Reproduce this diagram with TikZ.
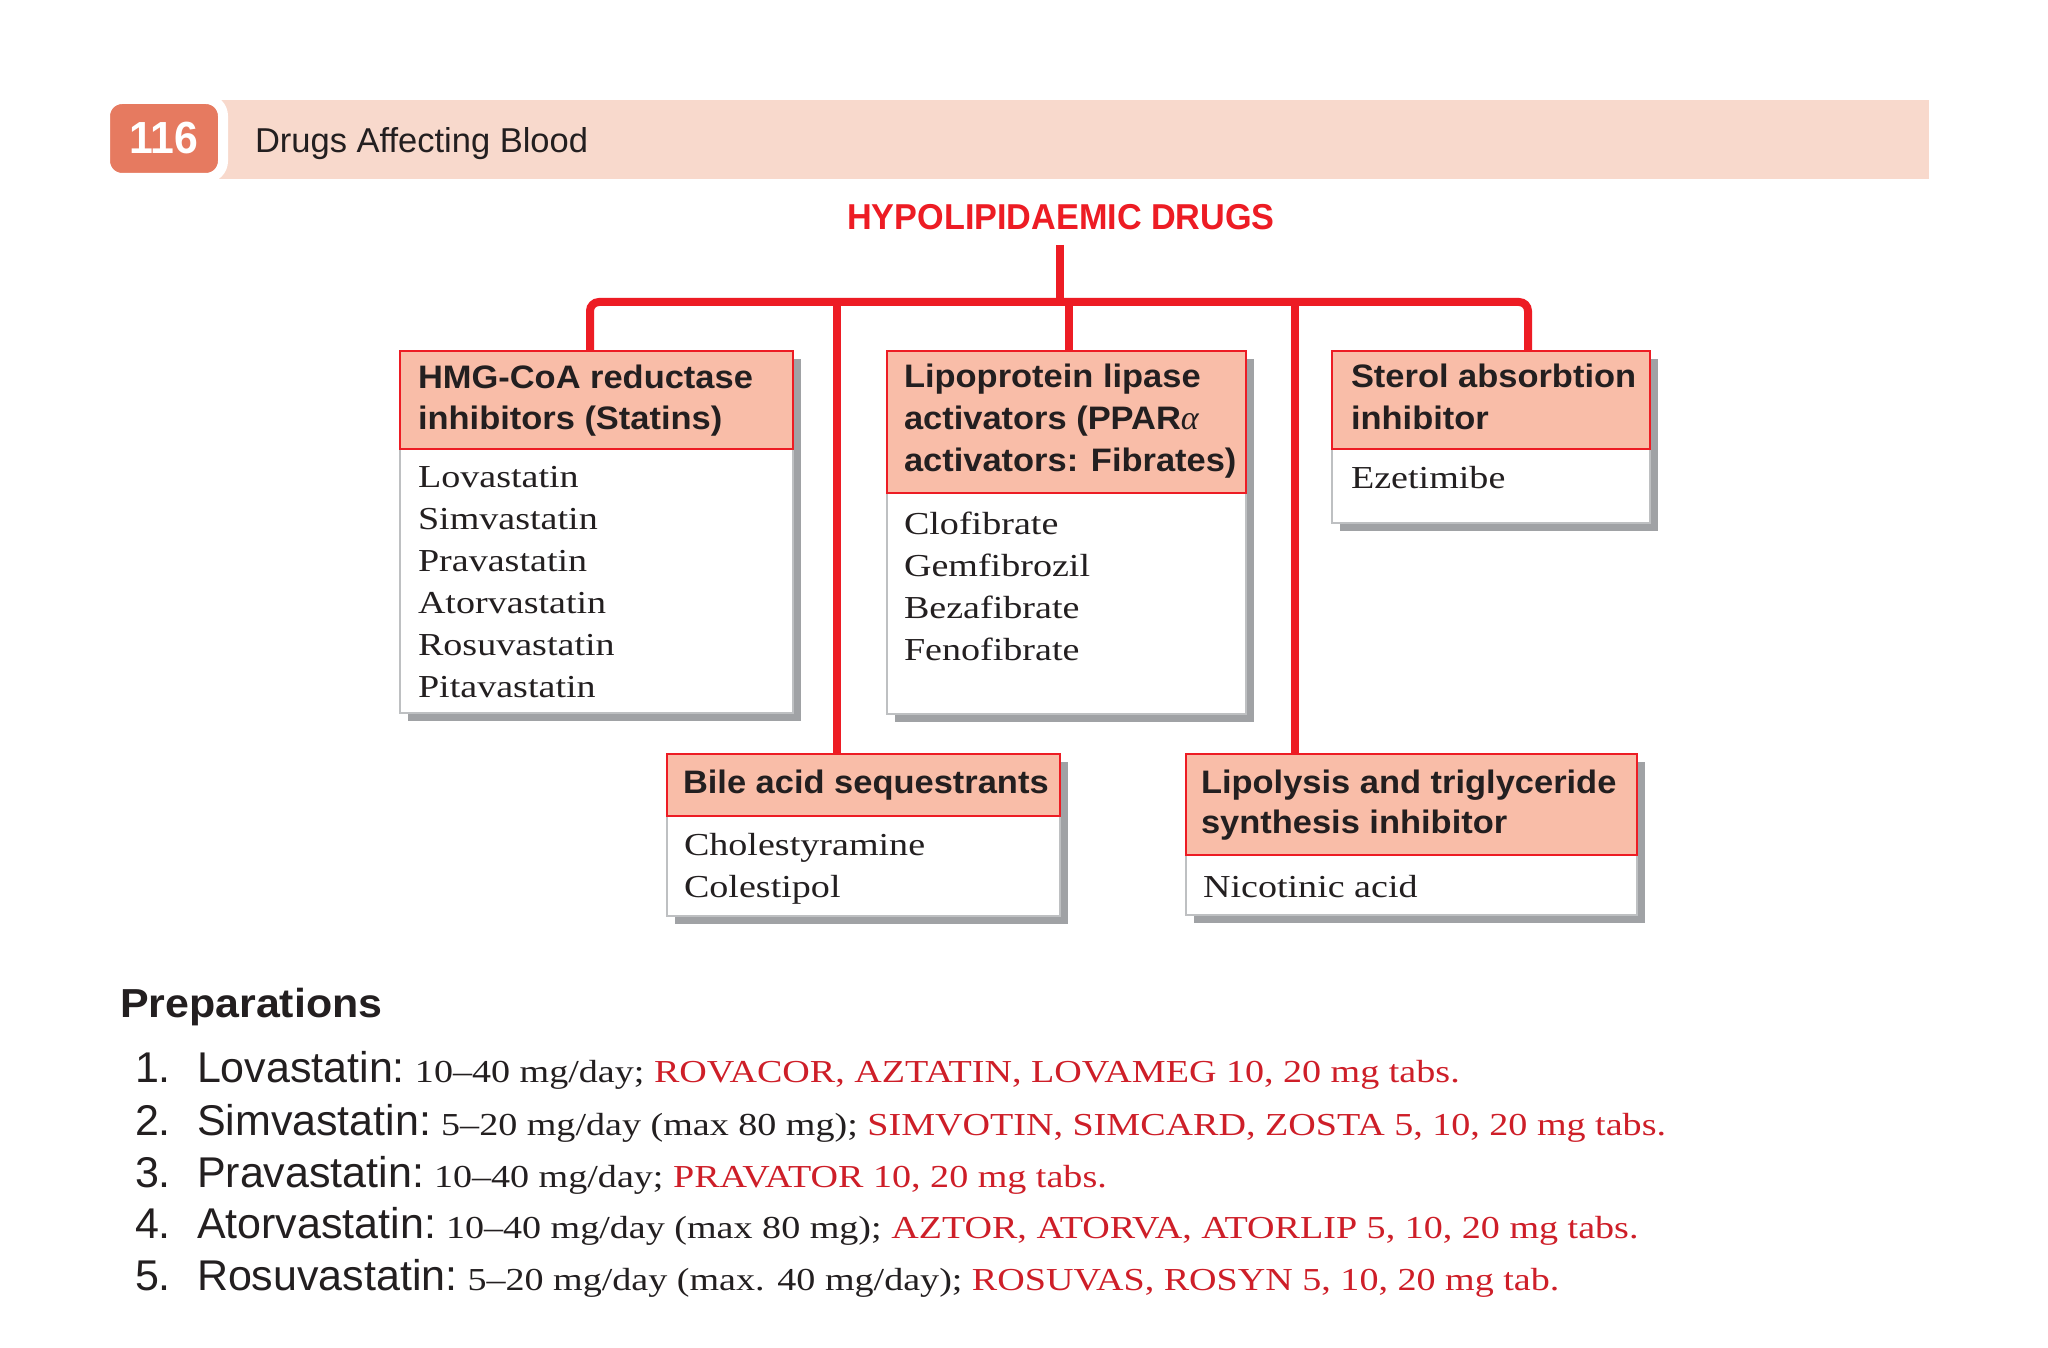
\documentclass[tikz,border=0pt]{standalone}
\usepackage{fontspec}
\setmainfont{Liberation Serif}
\newfontfamily\serifR{Liberation Serif}[FakeStretch=1.19]
\newfontfamily\alphafont{Liberation Serif}
\newfontfamily\sansR{Liberation Sans}
\newfontfamily\sansB{Liberation Sans}[FakeStretch=1.06]
\newfontfamily\titlefont{Liberation Sans}[FakeStretch=0.95]
\usetikzlibrary{shadows}
\definecolor{linered}{RGB}{237,28,36}
\definecolor{hdrfill}{RGB}{249,189,168}
\definecolor{barpink}{RGB}{248,217,204}
\definecolor{badgecol}{RGB}{230,122,96}
\definecolor{bodygray}{RGB}{190,192,194}
\definecolor{shadowgray}{RGB}{160,162,165}
\definecolor{ink}{RGB}{35,31,32}
\definecolor{prepred}{RGB}{206,30,40}
\newcommand\mydose[1]{{\serifR\fontsize{32}{38}\selectfont #1}}
\newcommand\mybrand[1]{{\color{prepred}#1}}
\tikzset{
  txt/.style={inner sep=0, outer sep=0, anchor=base west, text=ink},
  hdrtxt/.style={txt, font=\sansB\bfseries\fontsize{32.5}{39}\selectfont},
  itemtxt/.style={txt, font=\serifR\fontsize{32}{38}\selectfont},
  preptxt/.style={txt, font=\sansR\fontsize{43}{50}\selectfont},
  hdrbox/.style={draw=linered, line width=2, fill=hdrfill, inner sep=0, outer sep=0, anchor=north west},
  bodybox/.style={draw=bodygray, line width=2.5, fill=white, inner sep=0, outer sep=0, anchor=north west,
    drop shadow={shadow xshift=8pt, shadow yshift=-8pt, opacity=1, fill=shadowgray}},
  conn/.style={draw=linered, line width=8},
  badge/.style={fill=badgecol, draw=white, line width=10, rounded corners=17, minimum width=118,
    minimum height=79, inner sep=0, text=white, font=\titlefont\bfseries\fontsize{45}{50}\selectfont},
}
\begin{document}
\begin{tikzpicture}[x=1pt,y=-1pt]
\useasboundingbox[fill=white] (0,0) rectangle (2048,1348);

% page header
\node[fill=barpink, minimum width=1719, minimum height=79, inner sep=0, outer sep=0, anchor=north west] (bar) at (210,100) {};
\node[badge] (badge) at (164,138.5) {116};
\node[txt, font=\sansR\fontsize{34.5}{40}\selectfont] (chap) at (255,153) {Drugs Affecting Blood};

% title
\node[inner sep=0, outer sep=0, anchor=base, text=linered, font=\titlefont\bfseries\fontsize{36}{42}\selectfont] (title) at (1061,230) {HYPOLIPIDAEMIC DRUGS};

% connector coordinates
\coordinate (trunktop) at (1060,245);
\coordinate (hub) at (1060,302);
\coordinate (d1) at (590,351);
\coordinate (d2) at (1069,351);
\coordinate (d3) at (1528,351);
\coordinate (d4) at (837,754);
\coordinate (d5) at (1295,754);

\draw[conn] (trunktop) -- (hub);
\draw[conn, rounded corners=9] (d1) |- (hub) -| (d3);
\draw[conn] (d2 |- hub) -- (d2);
\draw[conn] (d4 |- hub) -- (d4);
\draw[conn] (d5 |- hub) -- (d5);

% Box 1: statins
\node[bodybox, minimum width=393, minimum height=362] (b1) at (400,351) {};
\node[hdrbox, minimum width=393, minimum height=98] (h1) at (400,351) {};
\node[hdrtxt] (h1a) at (418,388) {HMG-CoA reductase};
\node[hdrtxt] (h1b) at (418,429) {inhibitors (Statins)};
\foreach \t [count=\i from 0] in {Lovastatin,Simvastatin,Pravastatin,Atorvastatin,Rosuvastatin,Pitavastatin}
  \node[itemtxt] (s\i) at (418,487+42*\i) {\t};

% Box 2: fibrates
\node[bodybox, minimum width=359, minimum height=363] (b2) at (887,351) {};
\node[hdrbox, minimum width=359, minimum height=142] (h2) at (887,351) {};
\node[hdrtxt] (h2a) at (904,387) {Lipoprotein lipase};
\node[hdrtxt] (h2b) at (904,429) {activators (PPAR{\alphafont\mdseries\itshape\fontsize{34}{39}\selectfont α}};
\node[hdrtxt] (h2c) at (904,471) {activators: Fibrates)};
\foreach \t [count=\i from 0] in {Clofibrate,Gemfibrozil,Bezafibrate,Fenofibrate}
  \node[itemtxt] (f\i) at (904,534+42*\i) {\t};

% Box 3: sterol absorption
\node[bodybox, minimum width=318, minimum height=172] (b3) at (1332,351) {};
\node[hdrbox, minimum width=318, minimum height=98] (h3) at (1332,351) {};
\node[hdrtxt] (h3a) at (1351,387) {Sterol absorbtion};
\node[hdrtxt] (h3b) at (1351,429) {inhibitor};
\node[itemtxt] (e0) at (1351,488) {Ezetimibe};

% Box 4: bile acid sequestrants
\node[bodybox, minimum width=393, minimum height=162] (b4) at (667,754) {};
\node[hdrbox, minimum width=393, minimum height=62] (h4) at (667,754) {};
\node[hdrtxt] (h4a) at (683,793) {Bile acid sequestrants};
\node[itemtxt] (c0) at (684,855) {Cholestyramine};
\node[itemtxt] (c1) at (684,897) {Colestipol};

% Box 5: lipolysis inhibitor
\node[bodybox, minimum width=451, minimum height=161] (b5) at (1186,754) {};
\node[hdrbox, minimum width=451, minimum height=101] (h5) at (1186,754) {};
\node[hdrtxt] (h5a) at (1201,793) {Lipolysis and triglyceride};
\node[hdrtxt] (h5b) at (1201,833) {synthesis inhibitor};
\node[itemtxt] (n0) at (1203,897) {Nicotinic acid};

% Preparations
\node[txt, font=\sansB\bfseries\fontsize{40.5}{48}\selectfont] (prep) at (120,1017) {Preparations};
\node[preptxt] (n1) at (135,1082) {1.};
\node[preptxt] (p1) at (197,1082) {Lovastatin:\hspace{10pt}\mydose{10–40 mg/day; \mybrand{ROVACOR, AZTATIN, LOVAMEG 10, 20 mg tabs.}}};
\node[preptxt] (n2) at (135,1135) {2.};
\node[preptxt] (p2) at (197,1135) {Simvastatin:\hspace{10pt}\mydose{5–20 mg/day (max 80 mg); \mybrand{SIMVOTIN, SIMCARD, ZOSTA 5, 10, 20 mg tabs.}}};
\node[preptxt] (n3) at (135,1187) {3.};
\node[preptxt] (p3) at (197,1187) {Pravastatin:\hspace{10pt}\mydose{10–40 mg/day; \mybrand{PRAVATOR 10, 20 mg tabs.}}};
\node[preptxt] (n4) at (135,1238) {4.};
\node[preptxt] (p4) at (197,1238) {Atorvastatin:\hspace{10pt}\mydose{10–40 mg/day (max 80 mg); \mybrand{AZTOR, ATORVA, ATORLIP 5, 10, 20 mg tabs.}}};
\node[preptxt] (n5) at (135,1290) {5.};
\node[preptxt] (p5) at (197,1290) {Rosuvastatin:\hspace{10pt}\mydose{5–20 mg/day (max. 40 mg/day); \mybrand{ROSUVAS, ROSYN 5, 10, 20 mg tab.}}};
\end{tikzpicture}
\end{document}
